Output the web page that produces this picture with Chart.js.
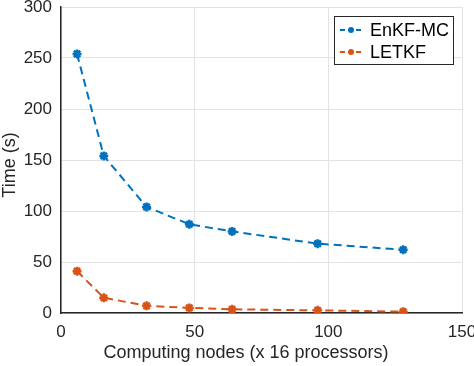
<!DOCTYPE html>
<html>
<head>
<meta charset="utf-8">
<script src="https://cdn.jsdelivr.net/npm/chart.js@4"></script>
<style>
  html, body { margin: 0; padding: 0; background: #fff; }
  #wrap { width: 474px; height: 366px; }
</style>
</head>
<body>
<div id="wrap"><canvas id="timeChart" width="474" height="366"></canvas></div>
<script>
/* datos */
const nodos   = [6, 16, 32, 48, 64, 96, 128];
const enkfMC  = [254, 154, 104, 87, 80, 68, 62];
const letkf   = [41, 15, 7, 5, 3.6, 2.6, 1.3];
const xTicks  = [0, 50, 100, 150];
const yTicks  = [0, 50, 100, 150, 200, 250, 300];
const tituloX = "Computing nodes (x 16 processors)";
const tituloY = "Time (s)";

const azul = "#0072BD";
const naranja = "#D95319";
const ejeColor = "#262626";
const fuente = "'Liberation Sans', Arial, sans-serif";

const toPoints = (ys) => ys.map((y, i) => ({ x: nodos[i], y: y }));

/* titulos de ejes (posicion como en la figura de MATLAB) */
const titulosPlugin = {
    id: "titulos",
    afterDraw(chart) {
        const c = chart.ctx;
        c.save();
        c.fillStyle = ejeColor;
        c.font = "18px " + fuente;
        c.textAlign = "center";
        c.textBaseline = "alphabetic";
        c.fillText(tituloX, 246, 358);
        c.translate(15, 165);
        c.rotate(-Math.PI / 2);
        c.fillText(tituloY, 0, 0);
        c.restore();
    }
};

/* leyenda dentro del area del grafico */
const leyendaPlugin = {
    id: "leyenda",
    afterDraw(chart) {
        const c = chart.ctx;
        const area = chart.chartArea;
        const x0 = area.right - 128, y0 = area.top + 9, w = 119, h = 48;
        c.save();
        c.fillStyle = "#fff";
        c.fillRect(x0, y0, w, h);
        c.strokeStyle = ejeColor;
        c.lineWidth = 1;
        c.strokeRect(x0 + 0.5, y0 + 0.5, w, h);
        chart.data.datasets.forEach((ds, i) => {
            const yy = y0 + 14 + i * 22;
            c.strokeStyle = ds.borderColor;
            c.lineWidth = 2;
            c.setLineDash([5, 3]);
            c.beginPath();
            c.moveTo(x0 + 6, yy);
            c.lineTo(x0 + 28, yy);
            c.stroke();
            c.setLineDash([]);
            c.fillStyle = ds.borderColor;
            c.beginPath();
            c.arc(x0 + 17, yy, 3, 0, Math.PI * 2);
            c.fill();
            c.fillStyle = "#000";
            c.font = "18px " + fuente;
            c.textBaseline = "middle";
            c.fillText(ds.label, x0 + 36, yy + 1);
        });
        c.restore();
    }
};

const ctx = document.getElementById("timeChart");
new Chart(ctx, {
    type: "line",
    data: {
        datasets: [
            {
                label: "EnKF-MC",
                data: toPoints(enkfMC),
                borderColor: azul,
                backgroundColor: azul,
                borderWidth: 2,
                borderDash: [8, 5],
                pointStyle: "star",
                pointRadius: 4.5,
                pointBorderWidth: 2.5,
                tension: 0
            },
            {
                label: "LETKF",
                data: toPoints(letkf),
                borderColor: naranja,
                backgroundColor: naranja,
                borderWidth: 2,
                borderDash: [8, 5],
                pointStyle: "star",
                pointRadius: 4.5,
                pointBorderWidth: 2.5,
                tension: 0
            }
        ]
    },
    options: {
        responsive: false,
        animation: false,
        layout: { padding: { left: 0, right: 12, top: 6, bottom: 0 } },
        plugins: {
            legend: { display: false },
            tooltip: { enabled: false }
        },
        scales: {
            x: {
                type: "linear",
                min: 0,
                max: 150,
                afterBuildTicks: (axis) => { axis.ticks = xTicks.map(v => ({ value: v })); },
                grid: { color: "#e3e3e3", drawTicks: false },
                border: { color: ejeColor, width: 1.5 },
                ticks: { color: ejeColor, padding: 9, font: { size: 17, family: fuente } },
                afterFit: (axis) => {
                    axis.height = 53;
                    axis.paddingRight = 0;
                    axis.paddingLeft = 0;
                }
            },
            y: {
                min: 0,
                max: 300,
                afterBuildTicks: (axis) => { axis.ticks = yTicks.map(v => ({ value: v })); },
                grid: { color: "#e3e3e3", drawTicks: false },
                border: { color: ejeColor, width: 1.5 },
                ticks: { color: ejeColor, padding: 9, font: { size: 17, family: fuente } },
                afterFit: (axis) => {
                    axis.width = 61;
                    axis.paddingTop = 0;
                    axis.paddingBottom = 0;
                }
            }
        }
    },
    plugins: [titulosPlugin, leyendaPlugin]
});
</script>
</body>
</html>
